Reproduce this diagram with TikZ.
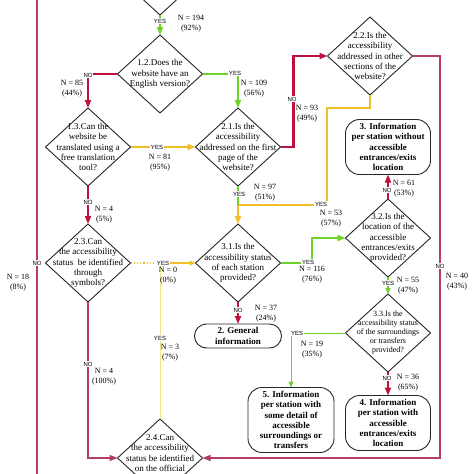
\documentclass[tikz,border=0pt]{standalone}
\usepackage{fontspec}
\setmainfont{Liberation Serif}
\newfontfamily\lblfont{Liberation Sans}
\usetikzlibrary{shapes.geometric,arrows.meta}
\definecolor{rd}{RGB}{190,18,60}
\definecolor{pk}{RGB}{180,60,105}
\definecolor{gr}{RGB}{110,210,40}
\definecolor{yl}{RGB}{240,190,40}
\definecolor{lyl}{RGB}{236,230,130}
\begin{document}
\begin{tikzpicture}[x=1pt,y=-1pt,
 dia/.style={shape=diamond,draw=black!85,line width=0.9pt,minimum width=85pt,minimum height=78pt,inner sep=0pt,outer sep=0pt},
 qtxt/.style={align=center,font=\fontsize{9}{10.2}\selectfont,inner sep=0pt},
 qsmall/.style={align=center,font=\fontsize{8}{9}\selectfont,inner sep=0pt},
 rbox/.style={draw=black!85,line width=0.9pt,rounded corners=14pt,align=center,font=\bfseries\fontsize{9}{10.2}\selectfont,inner sep=0pt,outer sep=0pt},
 nlab/.style={align=center,font=\fontsize{8}{10}\selectfont,inner sep=0pt},
 yn/.style={font=\lblfont\fontsize{6}{7}\selectfont,fill=white,inner sep=0.6pt},
 arr/.style={-{Triangle[length=8pt,width=6pt]}},
 arrs/.style={-{Triangle[length=6pt,width=5pt]}},
 gthick/.style={draw=gr,line width=2.6pt},
 gmed/.style={draw=gr,line width=1.8pt},
 gthin/.style={draw=gr,line width=1pt},
 rthick/.style={draw=rd,line width=2.6pt},
 rmed/.style={draw=rd,line width=1.8pt},
 pline/.style={draw=pk,line width=1.4pt},
 ymed/.style={draw=yl,line width=2pt},
 ythin/.style={draw=yl,line width=1.3pt},
 ydot/.style={draw=yl,line width=1.2pt,dotted},
 lythin/.style={draw=lyl,line width=1pt}
]
\useasboundingbox (0,0) rectangle (474,474);
\clip (0,0) rectangle (474,474);
\fill[white] (0,0) rectangle (474,474);

% decision nodes
\node[dia] (d11) at (160,-24) {};
\node[dia] (d12) at (160,74) {};
\node[dia] (d13) at (88,147) {};
\node[dia] (d21) at (238,147) {};
\node[dia] (d22) at (370,56) {};
\node[dia] (d23) at (88,263) {};
\node[dia] (d24) at (160,458) {};
\node[dia] (d31) at (238,263) {};
\node[dia] (d32) at (388,238) {};
\node[dia] (d33) at (388,333) {};

\node[qtxt] at (d12) {1.2.Does the\\website have an\\English version?};
\node[qtxt] at (d13) {1.3.Can the\\website be\\translated using a\\free translation\\tool?};
\node[qtxt] at (d21) {2.1.Is the\\accessibility\\addressed on the first\\page of the\\website?};
\node[qtxt] at (d22) {2.2.Is the\\accessibility\\addressed in other\\sections of the\\website?};
\node[qtxt] at (d23) {2.3.Can\\the accessibility\\status\ \ be identified\\through\\symbols?};
\node[qtxt] at (160,453) {2.4.Can\\the accessibility\\status be identified\\on the official};
\node[qtxt] at (d31) {3.1.Is the\\accessibility status\\of each station\\provided?};
\node[qtxt] at (d32) {3.2.Is the\\location of the\\accessible\\entrances/exits\\provided?};
\node[qsmall] at (d33) {3.3.Is the\\accessibility status\\of the surroundings\\or transfers\\provided?};

% outcome boxes
\node[rbox,minimum width=87pt,minimum height=24pt,rounded corners=12pt] (b2) at (238,336) {2. General\\information};
\node[rbox,minimum width=85pt,minimum height=55pt] (b3) at (388,147) {3. Information\\per station without\\accessible\\entrances/exits\\location};
\node[rbox,minimum width=85pt,minimum height=55pt] (b4) at (388,423) {4. Information\\per station with\\accessible\\entrances/exits\\location};
\node[rbox,minimum width=86pt,minimum height=65pt] (b5) at (291,420) {5. Information\\per station with\\some detail of\\accessible\\surroundings or\\transfers};

% helper coordinates
\coordinate (ltop) at (37,-10);
\coordinate (lbot) at (37,490);
\coordinate (rc) at (440,458);
\coordinate (j1) at (238,205);
\coordinate (j2) at (160,263);

% connectors
\draw[pline] (ltop) -- (lbot);
\draw[gmed,arr,draw=gr] (d11.south) -- (d12.north);
\draw[rthick,arr] (d12.west) -| (d13.north);
\draw[gthick,arr] (d12.east) -| (d21.north);
\draw[ymed,arr] (d13.east) -- (d21.west);
\draw[rthick,arr] (d21.east) -- ++(13,0) |- (d22.west);
\draw[pline,arr,draw=pk] (d22.east) -| (rc) -- (d24.east);
\draw[ythin] (d22.south) -- (370,108) -| (327,205) -- (j1);
\draw[gmed] (d21.south) -- (j1);
\draw[ymed,arr] (j1) -- (d31.north);
\draw[rmed,arr] (d13.south) -- (d23.north);
\draw[ydot] (d23.east) -- (j2);
\draw[ythin,arrs] (j2) -- (d31.west);
\draw[lythin] (j2) -- (d24.north);
\draw[pline,arr] (d23.south) |- (d24.west);
\draw[gthick,arr] (d31.east) -- (312,263) |- (d32.west);
\draw[rmed,arr] (d31.south) -- (b2.north);
\draw[rmed,arr] (d32.north) -- (b3.south);
\draw[gmed,arrs] (d32.south) -- (d33.north);
\draw[gthin,arrs] (d33.west) -| (b5.north);
\draw[rmed,arr] (d33.south) -- (b4.north);

% YES / NO labels
\node[yn] at (160,21) {YES};
\node[yn] at (88,75) {NO};
\node[yn] at (235,73) {YES};
\node[yn] at (157,147) {YES};
\node[yn] at (292,99) {NO};
\node[yn] at (88,202) {NO};
\node[yn] at (239,194) {YES};
\node[yn] at (321,204) {YES};
\node[yn] at (308,262) {YES};
\node[yn] at (387,190) {NO};
\node[yn] at (388,283) {YES};
\node[yn] at (37,263) {NO};
\node[yn] at (440,266) {NO};
\node[yn] at (163,263) {YES};
\node[yn] at (160,338) {YES};
\node[yn] at (238,310) {NO};
\node[yn] at (297,333) {YES};
\node[yn] at (387,378) {NO};
\node[yn] at (88,364) {NO};

% N labels
\node[nlab] at (191,24) {N = 194\\(92\%)};
\node[nlab] at (72,88.5) {N = 85\\(44\%)};
\node[nlab] at (254,89) {N = 109\\(56\%)};
\node[nlab] at (307,114) {N = 93\\(49\%)};
\node[nlab] at (160,162.5) {N = 81\\(95\%)};
\node[nlab] at (265,192.5) {N = 97\\(51\%)};
\node[nlab] at (331,219) {N = 53\\(57\%)};
\node[nlab] at (404,189) {N = 61\\(53\%)};
\node[nlab] at (312,274.5) {N = 116\\(76\%)};
\node[nlab] at (408,286) {N = 55\\(47\%)};
\node[nlab] at (104,215) {N = 4\\(5\%)};
\node[nlab] at (168,275.5) {N = 0\\(0\%)};
\node[nlab] at (18,282.5) {N = 18\\(8\%)};
\node[nlab] at (457,282) {N = 40\\(43\%)};
\node[nlab] at (266,314) {N = 37\\(24\%)};
\node[nlab] at (312,349.5) {N = 19\\(35\%)};
\node[nlab] at (408,382.5) {N = 36\\(65\%)};
\node[nlab] at (170,353) {N = 3\\(7\%)};
\node[nlab] at (104,377) {N = 4\\(100\%)};
\end{tikzpicture}
\end{document}
